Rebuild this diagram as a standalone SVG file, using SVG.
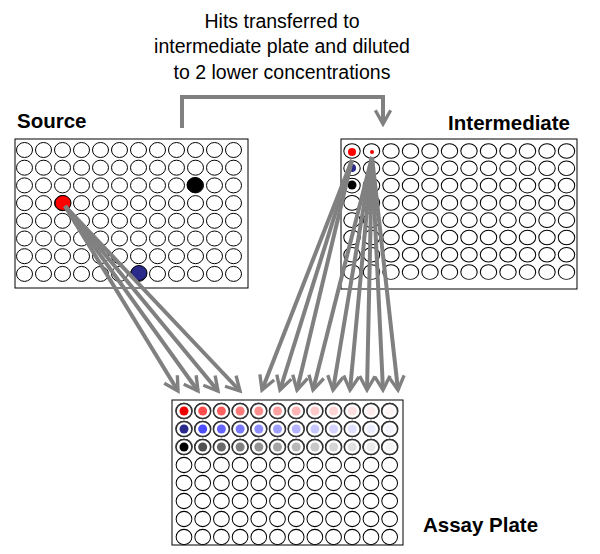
<svg xmlns="http://www.w3.org/2000/svg" xmlns:xlink="http://www.w3.org/1999/xlink" width="600" height="554" viewBox="0 0 600 554">
<style>
text{font-family:"Liberation Sans",Arial,sans-serif;fill:#000}
.t{font-size:19.5px;text-anchor:middle}
.b{font-size:20.5px;font-weight:bold}
.plate{fill:#fff;stroke:#000;stroke-width:1}
.w{fill:#fff;stroke:#000;stroke-width:1}
.a{stroke:#808080;stroke-width:4;fill:none;marker-end:url(#ah)}
.ow{fill:#fff;stroke:#333;stroke-width:1.6}
</style>
<defs>
<marker id="ah" viewBox="0 0 12 12" refX="10" refY="6" markerWidth="4.6" markerHeight="4.6" orient="auto" markerUnits="strokeWidth">
<path d="M1,1 L10,6 L1,11" fill="none" stroke="#808080" stroke-width="2.2"/>
</marker>
<g id="row">
<ellipse class="w" cx="0" cy="0" rx="8" ry="7.5"/><ellipse class="w" cx="19" cy="0" rx="8" ry="7.5"/><ellipse class="w" cx="38" cy="0" rx="8" ry="7.5"/><ellipse class="w" cx="57" cy="0" rx="8" ry="7.5"/><ellipse class="w" cx="76" cy="0" rx="8" ry="7.5"/><ellipse class="w" cx="95" cy="0" rx="8" ry="7.5"/><ellipse class="w" cx="114" cy="0" rx="8" ry="7.5"/><ellipse class="w" cx="133" cy="0" rx="8" ry="7.5"/><ellipse class="w" cx="152" cy="0" rx="8" ry="7.5"/><ellipse class="w" cx="171" cy="0" rx="8" ry="7.5"/><ellipse class="w" cx="190" cy="0" rx="8" ry="7.5"/><ellipse class="w" cx="209" cy="0" rx="8" ry="7.5"/>
</g>
<g id="rows8a"><use href="#row"/><use href="#row" y="17.7"/><use href="#row" y="35.4"/><use href="#row" y="53.1"/><use href="#row" y="70.8"/><use href="#row" y="88.5"/><use href="#row" y="106.2"/><use href="#row" y="123.9"/></g>
</defs>
<g id="title">
<text class="t" x="282" y="28">Hits transferred to</text>
<text class="t" x="282" y="53">intermediate plate and diluted</text>
<text class="t" x="282" y="79">to 2 lower concentrations</text>
</g>
<g id="source">
<text class="b" x="17" y="128">Source</text>
<rect class="plate" x="15" y="139" width="233" height="149"/>
<use href="#rows8a" transform="translate(24.5,150)"/>
<ellipse cx="63" cy="203" rx="8" ry="7.5" fill="#f00" stroke="#000"/>
<ellipse cx="195" cy="185" rx="8" ry="7.5" fill="#000" stroke="#000"/>
<ellipse cx="139" cy="273" rx="8" ry="7.5" fill="#2a2a8a" stroke="#000"/>
</g>
<g id="intermediate">
<text class="b" x="570" y="130" text-anchor="end">Intermediate</text>
<rect class="plate" x="341" y="139" width="236" height="150"/>
<g transform="translate(352,151) scale(1.0263,0.977)"><use href="#rows8a"/></g>
<circle cx="352" cy="152" r="4" fill="#f00"/>
<circle cx="372" cy="152" r="2" fill="#e00"/>
<circle cx="352" cy="168" r="4" fill="#2a2a8a"/>
<circle cx="352" cy="185" r="4.5" fill="#000"/>
</g>
<g id="assay">
<text class="b" x="423" y="532">Assay Plate</text>
<rect class="plate" x="172" y="400" width="231" height="145"/>
<g transform="translate(184,411) scale(0.984,1.017)"><use href="#rows8a"/></g>
<g id="dil">
<g transform="translate(184,411)">
<g class="ow"><ellipse cx="0" cy="0" rx="8" ry="7.5"/><ellipse cx="18.7" cy="0" rx="8" ry="7.5"/><ellipse cx="37.4" cy="0" rx="8" ry="7.5"/><ellipse cx="56.1" cy="0" rx="8" ry="7.5"/><ellipse cx="74.8" cy="0" rx="8" ry="7.5"/><ellipse cx="93.5" cy="0" rx="8" ry="7.5"/><ellipse cx="112.2" cy="0" rx="8" ry="7.5"/><ellipse cx="130.9" cy="0" rx="8" ry="7.5"/><ellipse cx="149.6" cy="0" rx="8" ry="7.5"/><ellipse cx="168.3" cy="0" rx="8" ry="7.5"/><ellipse cx="187" cy="0" rx="8" ry="7.5"/><ellipse cx="205.7" cy="0" rx="8" ry="7.5"/></g>
<circle cx="0" cy="0" r="4.5" fill="#e00"/><circle cx="18.7" cy="0" r="4.5" fill="#ff4d4d"/><circle cx="37.4" cy="0" r="4.5" fill="#ff6060"/><circle cx="56.1" cy="0" r="4.5" fill="#ff7a7a"/><circle cx="74.8" cy="0" r="4.5" fill="#ff9090"/><circle cx="93.5" cy="0" r="4.5" fill="#ffa0a0"/><circle cx="112.2" cy="0" r="4.5" fill="#ffb5b5"/><circle cx="130.9" cy="0" r="4.5" fill="#ffcaca"/><circle cx="149.6" cy="0" r="4.5" fill="#ffd5d5"/><circle cx="168.3" cy="0" r="4.5" fill="#ffe0e0"/><circle cx="187" cy="0" r="4.5" fill="#ffecec"/><circle cx="205.7" cy="0" r="4.5" fill="#fff5f5"/>
</g>
<g transform="translate(184,429)">
<g class="ow"><ellipse cx="0" cy="0" rx="8" ry="7.5"/><ellipse cx="18.7" cy="0" rx="8" ry="7.5"/><ellipse cx="37.4" cy="0" rx="8" ry="7.5"/><ellipse cx="56.1" cy="0" rx="8" ry="7.5"/><ellipse cx="74.8" cy="0" rx="8" ry="7.5"/><ellipse cx="93.5" cy="0" rx="8" ry="7.5"/><ellipse cx="112.2" cy="0" rx="8" ry="7.5"/><ellipse cx="130.9" cy="0" rx="8" ry="7.5"/><ellipse cx="149.6" cy="0" rx="8" ry="7.5"/><ellipse cx="168.3" cy="0" rx="8" ry="7.5"/><ellipse cx="187" cy="0" rx="8" ry="7.5"/><ellipse cx="205.7" cy="0" rx="8" ry="7.5"/></g>
<circle cx="0" cy="0" r="4.5" fill="#2a2a8a"/><circle cx="18.7" cy="0" r="4.5" fill="#4d4dff"/><circle cx="37.4" cy="0" r="4.5" fill="#6666ff"/><circle cx="56.1" cy="0" r="4.5" fill="#7a7aff"/><circle cx="74.8" cy="0" r="4.5" fill="#9090ff"/><circle cx="93.5" cy="0" r="4.5" fill="#a0a0ff"/><circle cx="112.2" cy="0" r="4.5" fill="#b5b5ff"/><circle cx="130.9" cy="0" r="4.5" fill="#c8c8ff"/><circle cx="149.6" cy="0" r="4.5" fill="#d5d5ff"/><circle cx="168.3" cy="0" r="4.5" fill="#e0e0ff"/><circle cx="187" cy="0" r="4.5" fill="#ececff"/><circle cx="205.7" cy="0" r="4.5" fill="#f5f5ff"/>
</g>
<g transform="translate(184,447)">
<g class="ow"><ellipse cx="0" cy="0" rx="8" ry="7.5"/><ellipse cx="18.7" cy="0" rx="8" ry="7.5"/><ellipse cx="37.4" cy="0" rx="8" ry="7.5"/><ellipse cx="56.1" cy="0" rx="8" ry="7.5"/><ellipse cx="74.8" cy="0" rx="8" ry="7.5"/><ellipse cx="93.5" cy="0" rx="8" ry="7.5"/><ellipse cx="112.2" cy="0" rx="8" ry="7.5"/><ellipse cx="130.9" cy="0" rx="8" ry="7.5"/><ellipse cx="149.6" cy="0" rx="8" ry="7.5"/><ellipse cx="168.3" cy="0" rx="8" ry="7.5"/><ellipse cx="187" cy="0" rx="8" ry="7.5"/><ellipse cx="205.7" cy="0" rx="8" ry="7.5"/></g>
<circle cx="0" cy="0" r="4.5" fill="#000"/><circle cx="18.7" cy="0" r="4.5" fill="#505050"/><circle cx="37.4" cy="0" r="4.5" fill="#6a6a6a"/><circle cx="56.1" cy="0" r="4.5" fill="#808080"/><circle cx="74.8" cy="0" r="4.5" fill="#959595"/><circle cx="93.5" cy="0" r="4.5" fill="#a5a5a5"/><circle cx="112.2" cy="0" r="4.5" fill="#b8b8b8"/><circle cx="130.9" cy="0" r="4.5" fill="#c8c8c8"/><circle cx="149.6" cy="0" r="4.5" fill="#d5d5d5"/><circle cx="168.3" cy="0" r="4.5" fill="#e0e0e0"/><circle cx="187" cy="0" r="4.5" fill="#ebebeb"/><circle cx="205.7" cy="0" r="4.5" fill="#f5f5f5"/>
</g>
</g>
</g>
<g id="connectors">
<path class="a" d="M182,128 V97 H383 V124"/>
<path class="a" d="M65,206 L178,391"/>
<path class="a" d="M65,206 L198,391"/>
<path class="a" d="M65,206 L218,391"/>
<path class="a" d="M65,206 L240,391"/>
<path class="a" d="M352,160 L262,390"/>
<path class="a" d="M352,160 L280,390"/>
<path class="a" d="M352,160 L297,390"/>
<path class="a" d="M372,157 L313,390"/>
<path class="a" d="M372,157 L333,390"/>
<path class="a" d="M372,157 L350,390"/>
<path class="a" d="M372,157 L367,390"/>
<path class="a" d="M372,157 L383,390"/>
<path class="a" d="M372,157 L398,390"/>
</g>
</svg>
